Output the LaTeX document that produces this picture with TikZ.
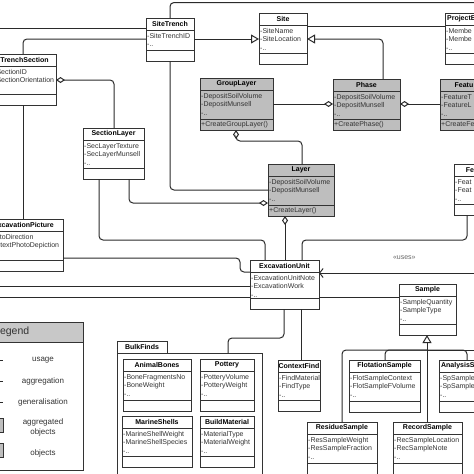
\documentclass[tikz,border=0pt]{standalone}
\usepackage{fontspec}
\setmainfont{Liberation Sans}
\usetikzlibrary{arrows.meta}

\definecolor{linegray}{HTML}{2A2A2A}
\definecolor{boxgray}{HTML}{333333}
\definecolor{classgray}{HTML}{BEBEBE}
\definecolor{legendgray}{HTML}{C8C8C8}
\definecolor{textgray}{HTML}{333333}

\tikzset{
  classbox/.style={draw=boxgray, line width=0.75pt, fill=white, anchor=north west,
    minimum height=51pt, inner sep=0pt, outer sep=0pt},
  classline/.style={draw=boxgray, line width=0.65pt},
  classtitle/.style={font=\bfseries\fontsize{7}{8}\selectfont, inner sep=0pt},
  classattr/.style={font=\fontsize{7}{8.5}\selectfont, text=textgray, align=left,
    anchor=north west, inner sep=0pt},
  legendtext/.style={font=\fontsize{8}{9.5}\selectfont, text=textgray, align=center},
  uselabel/.style={font=\fontsize{7}{8}\selectfont, text=black!60},
  link/.style={draw=linegray, line width=1pt, rounded corners=4pt},
  agg/.style={link, -{Diamond[open, length=9pt, width=6pt]}},
  gen/.style={link, -{Triangle[open, length=8pt, width=9pt]}},
  usagearrow/.style={link, -{Straight Barb[length=3.5pt, width=9pt]}},
}

% class box: [options]{name}{north west}{width}{title}{attributes}{operations}
\newcommand{\umlclass}[7][]{%
  \node[classbox, minimum width=#4pt, #1] (#2) at (#3) {};
  \draw[classline] ([yshift=-12pt]#2.north west) -- ([yshift=-12pt]#2.north east);
  \draw[classline] ([yshift=11pt]#2.south west) -- ([yshift=11pt]#2.south east);
  \node[classtitle] at ([yshift=-6pt]#2.north) {#5};
  \node[classattr] at ([xshift=1pt,yshift=-15pt]#2.north west) {#6};
  \node[classattr, anchor=west] at ([xshift=1pt,yshift=5.5pt]#2.south west) {#7};
}

\begin{document}
\begin{tikzpicture}[x=1pt, y=-1pt]
  \useasboundingbox (0,0) rectangle (474,474);
  \clip (0,0) rectangle (474,474);

  % upper part
  \umlclass[minimum height=43pt]{sitetrench}{146,18}{48}{SiteTrench}{-SiteTrenchID\\-..}{}
  \umlclass{site}{259,13}{48}{Site}{-SiteName\\-SiteLocation\\-..}{}
  \umlclass{projectb}{445,13}{33}{ProjectB}{-Membe\\-Membe\\-..}{}
  \umlclass[fill=classgray, minimum height=52pt]{grouplayer}{200,78}{73}{GroupLayer}{-DepositSoilVolume\\-DepositMunsell\\-..}{+CreateGroupLayer()}
  \umlclass[fill=classgray]{phase}{333,79}{67}{Phase}{-DepositSoilVolume\\-DepositMunsell\\-..}{+CreatePhase()}
  \umlclass[fill=classgray]{featureg}{440,79}{48}{Featu}{-FeatureT\\-FeatureL\\-..}{+CreateFe}
  \umlclass{trenchsection}{-7,54}{63}{TrenchSection}{-SectionID\\-SectionOrientation\\-..}{}
  \umlclass{sectionlayer}{83,128}{61}{SectionLayer}{-SecLayerTexture\\-SecLayerMunsell\\-..}{}
  \umlclass[fill=classgray, minimum height=52pt]{layer}{268,164}{66}{Layer}{-DepositSoilVolume\\-DepositMunsell\\-..}{+CreateLayer()}
  \umlclass{featurew}{454,164}{32}{Fe}{-Feat\\-Feat\\-..}{}
  \umlclass[minimum height=52pt]{excavationpicture}{-16,219}{79}{ExcavationPicture}{-PhotoDirection\\-ContextPhotoDepiction\\-..}{}
  \umlclass[minimum height=49pt]{excavationunit}{250,260}{69}{ExcavationUnit}{-ExcavationUnitNote\\-ExcavationWork\\-..}{}
  \umlclass{sample}{399,284}{57}{Sample}{-SampleQuantity\\-SampleType\\-..}{}

  % bulk finds package
  \node[classbox, minimum width=145pt, minimum height=130pt] (bulkfinds) at (117,353) {};
  \node[classbox, minimum width=50pt, minimum height=12pt,
    font=\bfseries\fontsize{7}{8}\selectfont] (bulktab) at (117,341) {BulkFinds};
  \umlclass[minimum height=52pt]{animalbones}{123,359}{68}{AnimalBones}{-BoneFragmentsNo\\-BoneWeight\\-..}{}
  \umlclass[minimum height=52pt]{pottery}{200,359}{54}{Pottery}{-PotteryVolume\\-PotteryWeight\\-..}{}
  \umlclass{marineshells}{122,416}{70}{MarineShells}{-MarineShellWeight\\-MarineShellSpecies\\-..}{}
  \umlclass{buildmaterial}{200,416}{54}{BuildMaterial}{-MaterialType\\-MaterialWeight\\-..}{}

  % lower part
  \umlclass{contextfind}{278,360}{42}{ContextFind}{-FindMaterial\\-FindType\\-..}{}
  \umlclass[minimum height=52pt]{flotationsample}{349,360}{71}{FlotationSample}{-FlotSampleContext\\-FlotSampleFVolume\\-..}{}
  \umlclass[minimum height=52pt]{analysissample}{439,360}{58}{AnalysisSample}{-SpSample\\-SpSample\\-..}{}
  \umlclass[minimum height=52pt]{residuesample}{307,422}{70}{ResidueSample}{-ResSampleWeight\\-ResSampleFraction\\-..}{}
  \umlclass[minimum height=52pt]{recordsample}{393,422}{69}{RecordSample}{-RecSampleLocation\\-RecSampleNote\\-..}{}

  % legend
  \node[classbox, minimum width=92pt, minimum height=148pt] (legend) at (-9,322) {};
  \draw[classline, fill=legendgray] (legend.north west) rectangle ([yshift=-20pt]legend.north east);
  \node[font=\fontsize{10.5}{12}\selectfont, text=textgray, anchor=west, inner sep=0pt]
    at ([xshift=3pt,yshift=-10pt]legend.north west) {Legend};
  \foreach \yy in {360,381,402}
    \draw[link] (-40,\yy) -- (3,\yy);
  \foreach \yy in {418,443}
    \draw[classline, fill=classgray] (-40,\yy) rectangle (3,\yy+14);
  \foreach \txt/\yy in {usage/360, aggregation/381, generalisation/402, {aggregated\\objects}/427.5, objects/453}
    \node[legendtext] at (43,\yy) {\txt};

  % free ends
  \coordinate (offtop) at (480,2.5);
  \coordinate (offleftA) at (-10,28);
  \coordinate (offleftB) at (-10,286);
  \coordinate (offleftC) at (-10,297);
  \coordinate (offrightA) at (480,273);
  \coordinate (offrightB) at (480,350);
  \coordinate (genbus) at (427,350);

  % connectors
  \draw[link] (sitetrench.north) |- (offtop);
  \draw[link] (offleftA) -- (sitetrench.west |- offleftA);
  \draw[link] (trenchsection.north -| 23,0) |- (sitetrench.west |- 0,39);
  \draw[gen] (sitetrench.east |- 0,39) -- (site.west |- 0,39);
  \draw[link] (site.east |- 0,26) -- (projectb.west |- 0,26);
  \draw[gen] (phase.north -| 383,0) |- (site.east |- 0,39);
  \draw[agg] (grouplayer.east |- 0,104) -- (phase.west |- 0,104);
  \draw[agg] (featureg.west |- 0,104) -- (phase.east |- 0,104);
  \draw[agg] (layer.north -| 302,0) |- (236,141) -- (grouplayer.south -| 236,0);
  \draw[link] (sitetrench.south) |- (layer.west |- 0,190);
  \draw[agg] (sectionlayer.south -| 129,0) |- (layer.west |- 0,203);
  \draw[agg] (sectionlayer.north -| 114,0) |- (trenchsection.east |- 0,80);
  \draw[link] (trenchsection.south -| 23,0) -- (excavationpicture.north -| 23,0);
  \draw[link] (sectionlayer.south -| 99,0) |- (265,240) -- (excavationunit.north -| 265,0);
  \draw[link] (excavationpicture.east |- 0,258) -| (240,272) -- (excavationunit.west |- 0,272);
  \draw[link] (offleftB) -- (excavationunit.west |- offleftB);
  \draw[link] (offleftC) -- (excavationunit.west |- offleftC);
  \draw[link] (excavationunit.east |- 0,297) -- (sample.west |- 0,297);
  \draw[agg] (excavationunit.north -| 285,0) -- (layer.south -| 285,0);
  \draw[link] (featurew.south -| 467,0) |- (302,240) -- (excavationunit.north -| 302,0);
  \draw[usagearrow] (offrightA) -- (excavationunit.east |- offrightA)
    node[uselabel, pos=0.47, yshift=15pt] {«uses»};
  \draw[link] (excavationunit.south -| 284,0) |- (228,338) -- (bulkfinds.north -| 228,0);
  \draw[link] (excavationunit.south -| 301,0) -- (contextfind.north -| 301,0);

  % sample generalisation
  \draw[gen] (recordsample.north -| genbus) -- (sample.south -| genbus);
  \draw[link] (residuesample.north -| 342,0) |- (genbus);
  \draw[link] (flotationsample.north -| 385,0) |- (genbus);
  \draw[link] (analysissample.north -| 467,0) |- (genbus);
  \draw[link] (offrightB) -- (genbus);
\end{tikzpicture}
\end{document}
